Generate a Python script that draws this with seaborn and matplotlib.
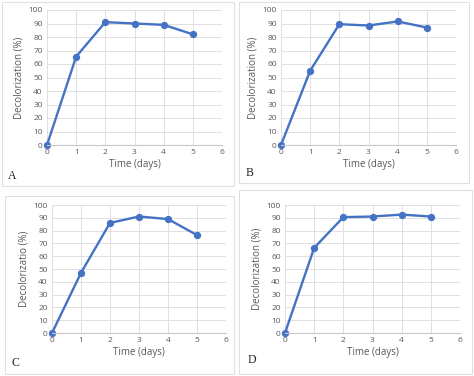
import matplotlib
matplotlib.use("Agg")
import matplotlib.pyplot as plt
from matplotlib.patches import Rectangle
import pandas as pd
import seaborn as sns

days = [0, 1, 2, 3, 4, 5]
dec_a = [0, 65.5, 91, 90, 89, 82]
dec_b = [0, 55, 89.5, 88.5, 91.5, 87]
dec_c = [0, 47, 86, 91, 89, 76.5]
dec_d = [0, 66.5, 90.5, 91, 92.5, 91]
panel_letters = ["A", "B", "C", "D"]
ylabels = ["Decolorization (%)", "Decolorization (%)",
           "Decolorizatio (%)", "Decolorization (%)"]

sns.set_style("white")
plt.rcParams["font.family"] = ["Open Sans", "DejaVu Sans"]

W, H = 474, 376
fig = plt.figure(figsize=(W / 100, H / 100), dpi=100)

# panel frames (pixels: x0, y0, x1, y1)
frames = [(2, 2, 234, 186), (239, 2, 469, 183), (5, 196, 234, 374), (239, 190, 472, 374)]
for x0, y0, x1, y1 in frames:
    fig.patches.append(Rectangle((x0 / W, 1 - y1 / H), (x1 - x0) / W, (y1 - y0) / H,
                                 transform=fig.transFigure, fill=False,
                                 edgecolor="#e0e0e0", linewidth=0.8))

# axes boxes (pixels: left, right, top, bottom)
boxes = [(47, 222, 10, 145), (281, 456, 10, 145), (52, 226, 205, 333), (285, 460, 205, 333)]
letter_pos = [(8, 176), (246, 173), (12, 363), (248, 360)]
series = [dec_a, dec_b, dec_c, dec_d]

for i, (l, r, t, b) in enumerate(boxes):
    ax = fig.add_axes([l / W, 1 - b / H, (r - l) / W, (b - t) / H])
    df = pd.DataFrame({"day": days, "dec": series[i]})
    sns.lineplot(data=df, x="day", y="dec", ax=ax, color="#4472c4", linewidth=1.7,
                 marker="o", markersize=4.5, markeredgecolor="#4472c4", clip_on=False)
    ax.set_xlim(0, 6)
    ax.set_ylim(0, 100)
    ax.set_xticks(range(0, 7))
    ax.set_yticks(range(0, 101, 10))
    ax.grid(True, color="#e0e0e0", linewidth=0.7)
    ax.set_axisbelow(True)
    for s in ["top", "right", "left"]:
        ax.spines[s].set_visible(False)
    ax.spines["bottom"].set_color("#c8c8c8")
    ax.spines["bottom"].set_linewidth(0.8)
    ax.tick_params(length=0, labelsize=6, labelcolor="#595959", pad=3)
    ax.set_xlabel("Time (days)", fontsize=7, color="#595959", labelpad=2)
    ax.set_ylabel(ylabels[i], fontsize=7, color="#595959", labelpad=3)
    lx, ly = letter_pos[i]
    fig.text(lx / W, 1 - ly / H, panel_letters[i], fontsize=8.5,
             family="Liberation Serif", va="center", ha="left")

fig.savefig("out.png", dpi=100)
